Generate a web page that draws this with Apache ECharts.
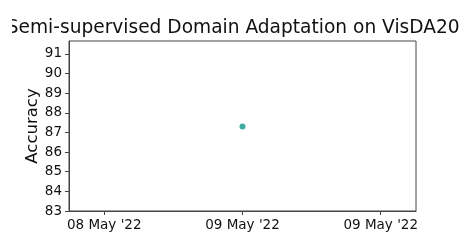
<!DOCTYPE html>
<html><head><meta charset="utf-8">
<script src="https://cdn.jsdelivr.net/npm/echarts@6/dist/echarts.min.js"></script>
<style>html,body{margin:0;padding:0;background:#fff}#c{width:474px;height:250px}</style>
</head><body><div id="c"></div>
<script>
const titleText = "Semi-supervised Domain Adaptation on VisDA2017";
const yAxisName = "Accuracy";
const xTickPositions = [-1, 0, 1];
const xTickLabels = ["08 May '22", "09 May '22", "09 May '22"];
const pointX = [0];
const pointY = [87.3];
const yTicks = [83, 84, 85, 86, 87, 88, 89, 90, 91];

const chart = echarts.init(document.getElementById('c'), null, {renderer: 'canvas'});
const font = 'DejaVu Sans';
const lbl = {};
xTickPositions.forEach((p, i) => lbl[p] = xTickLabels[i]);
chart.setOption({
  animation: false,
  grid: {left: 69, right: 58, top: 41, bottom: 39, show: true, borderColor: '#444', borderWidth: 1},
  graphic: [
    {type: 'text', x: 245, y: 19, z: 10, style: {text: titleText, font: '18.6px "DejaVu Sans"', fill: '#111', textAlign: 'center'}},
    {type: 'rect', z: 20, shape: {x: 0, y: 12, width: 12, height: 28}, style: {fill: '#fff'}},
    {type: 'rect', z: 20, shape: {x: 460, y: 12, width: 14, height: 28}, style: {fill: '#fff'}}
  ],
  xAxis: {
    type: 'value', min: -1.255, max: 1.255,
    axisLine: {show: true, onZero: false, lineStyle: {color: '#444'}},
    splitLine: {show: false},
    axisTick: {show: true, customValues: xTickPositions, length: 4, lineStyle: {color: '#444'}},
    axisLabel: {customValues: xTickPositions, formatter: v => lbl[v] || '', fontFamily: font, fontSize: 13.5, color: '#111', margin: 7}
  },
  yAxis: {
    type: 'value', min: 83, max: 91.66,
    name: yAxisName, nameLocation: 'middle', nameGap: 28, nameMoveOverlap: false,
    nameTextStyle: {fontFamily: font, fontSize: 16.5, color: '#111'},
    axisLine: {show: true, onZero: false, lineStyle: {color: '#444'}},
    splitLine: {show: false},
    axisTick: {show: true, customValues: yTicks, length: 4, lineStyle: {color: '#444'}},
    axisLabel: {customValues: yTicks, fontFamily: font, fontSize: 13.5, color: '#111', margin: 7}
  },
  series: [{
    type: 'scatter', symbolSize: 6,
    itemStyle: {color: '#0f968a'},
    data: pointX.map((x, i) => [x, pointY[i]])
  }]
});
</script></body></html>
